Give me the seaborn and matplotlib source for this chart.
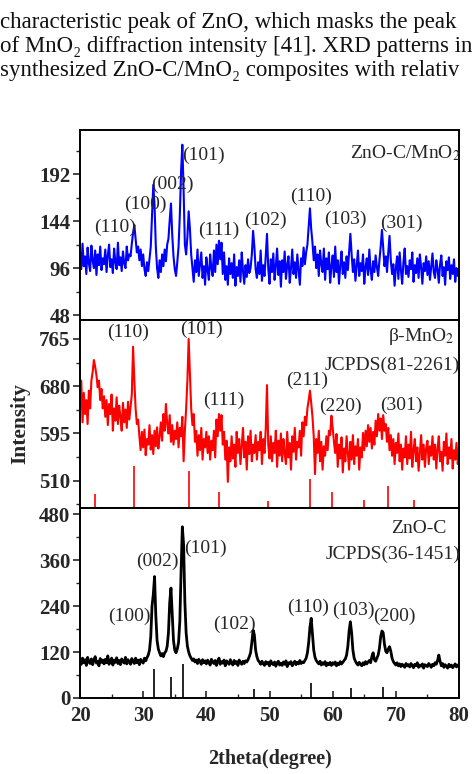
import numpy as np
import pandas as pd
import matplotlib
matplotlib.use("Agg")
import matplotlib.pyplot as plt
from matplotlib.ticker import MultipleLocator
import seaborn as sns

##### data (0.2 degree steps from 20 to 80)
two_theta = np.round(np.arange(20.0, 80.01, 0.2), 1)

# ZnO-C/MnO2 (blue)
znoc_mno2 = [
    112, 95, 121, 98, 108, 90, 117, 101, 93, 119, 104, 96, 114, 89, 110, 99, 118, 94, 106, 100,
    115, 92, 109, 120, 97, 105, 91, 116, 102, 95, 122, 99, 107, 93, 113, 101, 96, 118, 104, 110,
    108, 121, 132, 140, 126, 112, 118, 104, 115, 98, 110, 95, 88, 102, 93, 105, 118, 150, 181, 160,
    118, 96, 86, 104, 92, 110, 98, 115, 103, 120, 126, 145, 162, 130, 108, 95, 88, 102, 118, 150,
    195, 222, 175, 120, 110, 128, 154, 136, 110, 96, 82, 104, 92, 115, 88, 100, 112, 86, 98, 79,
    107, 94, 84, 110, 96, 88, 114, 92, 120, 100, 124, 105, 122, 90, 112, 84, 98, 79, 106, 90,
    101, 86, 110, 78, 97, 88, 104, 82, 112, 93, 80, 99, 87, 105, 91, 96, 110, 134, 118, 95,
    86, 102, 90, 114, 83, 99, 88, 108, 131, 96, 80, 105, 92, 111, 84, 98, 116, 89, 103, 77,
    104, 92, 113, 85, 99, 108, 81, 96, 115, 90, 102, 86, 110, 94, 79, 106, 98, 117, 100, 112,
    120, 138, 157, 136, 122, 104, 118, 96, 110, 88, 114, 100, 92, 116, 84, 106, 95, 112, 81, 98,
    109, 87, 118, 92, 104, 80, 99, 113, 90, 102, 86, 108, 94, 112, 131, 110, 92, 105, 83, 99,
    114, 88, 101, 93, 110, 80, 97, 106, 89, 115, 94, 84, 103, 92, 109, 97, 88, 104, 118, 135,
    116, 98, 108, 92, 112, 129, 104, 90, 100, 78, 96, 108, 85, 112, 94, 80, 102, 116, 90, 98,
    87, 104, 95, 112, 82, 99, 91, 106, 86, 110, 97, 80, 101, 93, 108, 89, 103, 84, 97, 111,
    92, 86, 104, 95, 81, 100, 109, 88, 97, 79, 103, 94, 107, 85, 99, 90, 105, 82, 96, 88,
    94,
]

# beta-MnO2 (red)
beta_mno2 = [
    640, 690, 615, 668, 630, 655, 612, 672, 640, 690, 705, 727, 715, 700, 678, 690, 655, 675, 640, 662,
    625, 655, 610, 648, 630, 665, 600, 640, 618, 660, 612, 645, 625, 600, 650, 615, 638, 605, 652, 620,
    642, 665, 751, 690, 640, 612, 620, 590, 565, 598, 570, 602, 556, 585, 575, 610, 566, 592, 558, 600,
    572, 606, 568, 590, 615, 582, 630, 600, 648, 612, 595, 628, 580, 610, 575, 600, 585, 615, 570, 605,
    590, 625, 545, 600, 640, 690, 765, 700, 640, 610, 630, 580, 600, 555, 592, 565, 605, 548, 585, 570,
    598, 560, 590, 548, 582, 565, 600, 552, 620, 590, 630, 600, 628, 575, 598, 548, 582, 508, 570, 545,
    590, 550, 575, 535, 598, 560, 585, 540, 572, 605, 552, 580, 530, 590, 558, 600, 545, 575, 560, 592,
    548, 580, 565, 598, 540, 585, 560, 602, 682, 575, 550, 590, 545, 578, 560, 600, 535, 582, 555, 595,
    545, 585, 560, 540, 598, 552, 578, 530, 590, 562, 605, 548, 580, 570, 600, 555, 615, 590, 625, 610,
    640, 655, 672, 650, 625, 590, 522, 585, 560, 600, 545, 580, 530, 572, 555, 590, 565, 600, 592, 627,
    605, 580, 560, 594, 535, 575, 550, 588, 525, 568, 545, 590, 560, 530, 580, 548, 592, 540, 572, 555,
    585, 530, 570, 552, 596, 565, 600, 572, 610, 580, 605, 568, 598, 575, 618, 590, 630, 600, 622, 585,
    628, 600, 612, 580, 605, 565, 592, 555, 585, 540, 578, 560, 595, 545, 575, 530, 568, 552, 590, 540,
    575, 550, 598, 535, 565, 585, 545, 570, 528, 560, 592, 548, 575, 535, 568, 582, 540, 572, 555, 590,
    548, 575, 532, 568, 590, 545, 562, 528, 580, 555, 595, 540, 570, 550, 585, 532, 565, 548, 578, 540,
    560,
]

# ZnO-C (black)
znoc = [
    98, 88, 104, 92, 100, 85, 106, 94, 90, 102, 87, 99, 108, 91, 96, 84, 103, 93, 99, 89,
    101, 92, 110, 88, 97, 104, 86, 99, 93, 105, 90, 98, 87, 102, 95, 91, 106, 89, 100, 94,
    88, 103, 95, 90, 104, 92, 99, 87, 101, 95, 91, 104, 97, 105, 112, 125, 160, 240, 270, 317,
    215, 150, 128, 118, 110, 116, 108, 118, 122, 135, 170, 250, 287, 220, 150, 125, 118, 128, 145, 200,
    330, 447, 400, 250, 170, 135, 120, 110, 104, 98, 102, 94, 99, 90, 101, 95, 88, 100, 92, 97,
    89, 99, 93, 86, 101, 94, 90, 98, 85, 96, 104, 88, 95, 91, 99, 84, 97, 92, 88, 100,
    91, 86, 98, 90, 95, 85, 99, 92, 88, 96, 90, 97, 94, 100, 108, 118, 145, 177, 165, 125,
    108, 98, 94, 88, 96, 90, 85, 95, 89, 93, 84, 97, 90, 87, 94, 83, 92, 96, 86, 91,
    85, 94, 88, 97, 82, 92, 89, 95, 84, 90, 96, 87, 93, 89, 98, 90, 94, 92, 98, 104,
    118, 145, 185, 208, 165, 125, 106, 98, 93, 89, 96, 86, 92, 88, 95, 84, 91, 87, 93, 85,
    92, 88, 94, 84, 91, 87, 95, 89, 93, 98, 102, 112, 135, 175, 199, 170, 125, 104, 96, 90,
    86, 93, 88, 84, 92, 87, 95, 89, 94, 98, 92, 108, 118, 100, 96, 104, 112, 130, 160, 175,
    170, 140, 122, 118, 128, 134, 122, 104, 95, 90, 86, 92, 84, 89, 82, 88, 85, 80, 90, 84,
    87, 81, 90, 85, 79, 88, 84, 92, 80, 86, 83, 89, 78, 87, 84, 82, 90, 86, 80, 88,
    84, 92, 88, 98, 112, 96, 84, 90, 80, 87, 83, 78, 88, 82, 86, 79, 84, 89, 81, 86,
    83,
]

# standard cards
mno2_card_pos = [22.4, 28.5, 37.3, 42.0, 49.7, 56.4, 59.9, 65.0, 68.8, 72.8]
mno2_card_int = [487, 537, 528, 490, 474, 514, 490, 476, 501, 476]
zno_card_pos = [31.77, 34.42, 36.25, 47.54, 56.60, 62.86, 67.96]
zno_card_int = [76, 55, 89, 23, 39, 26, 29]

# peak labels (hkl, x, y)
labels_top = [("(110)", 25.5, 138), ("(100)", 30.3, 161), ("(002)", 34.6, 182),
              ("(101)", 39.6, 211), ("(111)", 41.9, 135), ("(102)", 49.3, 145),
              ("(110)", 56.6, 169), ("(103)", 62.0, 146), ("(301)", 70.8, 142)]
labels_mid = [("(110)", 27.6, 776), ("(101)", 39.3, 782), ("(111)", 42.8, 655),
              ("(211)", 55.9, 690), ("(220)", 61.3, 643), ("(301)", 70.8, 645)]
labels_bot = [("(100)", 27.8, 212), ("(002)", 32.2, 358), ("(101)", 39.9, 391),
              ("(102)", 44.4, 191), ("(110)", 56.1, 237), ("(103)", 63.3, 230),
              ("(200)", 69.7, 214)]

paragraph = ["characteristic peak of ZnO, which masks the peak",
             "of MnO\u2082 diffraction intensity [41]. XRD patterns in",
             "synthesized ZnO-C/MnO\u2082 composites with relativ"]

##### style
sns.set_theme(style="ticks")
plt.rcParams["font.family"] = ["Liberation Serif", "DejaVu Serif"]
plt.rcParams["mathtext.fontset"] = "stix"
plt.rcParams["axes.linewidth"] = 1.4

fig, axes = plt.subplots(3, 1, figsize=(4.74, 7.74), dpi=100, sharex=True,
                         gridspec_kw={"hspace": 0, "height_ratios": [190, 188, 190]})
fig.subplots_adjust(left=0.1688, right=0.9684, top=0.832, bottom=0.0982)
ax1, ax2, ax3 = axes

df = pd.DataFrame({"2theta": two_theta, "a": znoc_mno2, "b": beta_mno2, "c": znoc})

sns.lineplot(data=df, x="2theta", y="a", ax=ax1, color="#0000ff", lw=1.5)
sns.lineplot(data=df, x="2theta", y="b", ax=ax2, color="#ff0000", lw=1.5)
sns.lineplot(data=df, x="2theta", y="c", ax=ax3, color="black", lw=2.0)

ax1.set_ylim(43, 237)
ax2.set_ylim(461, 799)
ax3.set_ylim(0, 496)
ax3.set_xlim(20, 80)

ax2.vlines(mno2_card_pos, 461, mno2_card_int, color="#ff0000", lw=1.2)
ax3.vlines(zno_card_pos, 0, zno_card_int, color="black", lw=1.2)

fs = 14
for ax, labs in [(ax1, labels_top), (ax2, labels_mid), (ax3, labels_bot)]:
    for s, x, y in labs:
        ax.text(x, y, s, ha="center", va="center", fontsize=fs)

ax1.text(80.2, 213, "ZnO-C/MnO$_2$", ha="right", va="center", fontsize=fs)
ax2.text(79.3, 769, "\u03b2-MnO$_2$", ha="right", va="center", fontsize=fs)
ax2.text(80.2, 718, "JCPDS(81-2261)", ha="right", va="center", fontsize=fs)
ax3.text(78.0, 443, "ZnO-C", ha="right", va="center", fontsize=fs)
ax3.text(80.2, 375, "JCPDS(36-1451)", ha="right", va="center", fontsize=fs)

ax1.yaxis.set_major_locator(MultipleLocator(48))
ax1.yaxis.set_minor_locator(MultipleLocator(24))
ax2.yaxis.set_major_locator(MultipleLocator(85))
ax2.yaxis.set_minor_locator(MultipleLocator(42.5))
ax3.yaxis.set_major_locator(MultipleLocator(120))
ax3.yaxis.set_minor_locator(MultipleLocator(60))
ax3.xaxis.set_major_locator(MultipleLocator(10))
ax3.xaxis.set_minor_locator(MultipleLocator(5))

for ax in axes:
    for sp in ax.spines.values():
        sp.set_visible(True)
        sp.set_color("black")
    ax.set_xlabel("")
    ax.set_ylabel("")
    ax.tick_params(axis="y", which="major", direction="out", length=5, width=1.2,
                   labelsize=15, pad=2)
    ax.tick_params(axis="y", which="minor", direction="out", length=3, width=1.0)
    ax.tick_params(axis="x", which="both", bottom=False, labelbottom=False)
    for t in ax.get_yticklabels():
        t.set_fontweight("bold")

ax3.tick_params(axis="x", which="major", bottom=True, labelbottom=True, direction="in",
                length=5, width=1.2, labelsize=15, pad=6)
ax3.tick_params(axis="x", which="minor", bottom=True, direction="in", length=3, width=1.0)
for t in ax3.get_xticklabels():
    t.set_fontweight("bold")

ax3.set_xlabel("2theta(degree)", fontsize=14.5, fontweight="bold", labelpad=16)
fig.text(0.042, 1 - 424 / 774, "Intensity", rotation=90, ha="center", va="center",
         fontsize=15.5, fontweight="bold")

# text of the page above the figure
for i, line in enumerate(paragraph):
    fig.text(0.0, 1 - (28 + 24 * i) / 774, line, ha="left", va="baseline",
             fontsize=16.5, color="#111111")

plt.savefig("out.png", dpi=100)
plt.close()
